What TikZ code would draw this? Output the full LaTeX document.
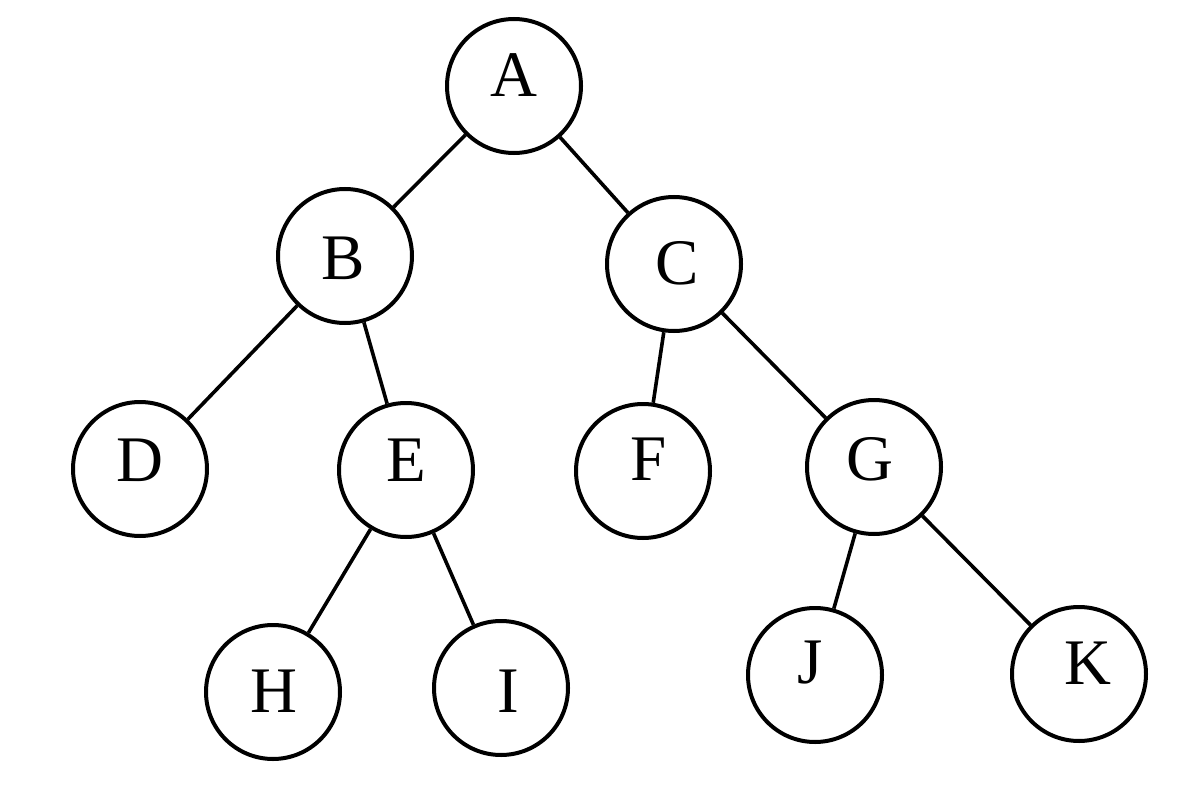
\documentclass[tikz,border=0pt]{standalone}
\usepackage{fontspec}
\setmainfont{Liberation Serif}
\begin{document}
\begin{tikzpicture}[x=1pt,y=-1pt,
  vertex/.style={circle,draw=black,line width=4pt,minimum size=134pt,inner sep=0pt},
  letter/.style={font=\fontsize{65}{70}\selectfont,inner sep=0pt},
  edge/.style={line width=3.6pt}]
\useasboundingbox (0,0) rectangle (1200,789);
\fill[white] (0,0) rectangle (1200,789);
\node[vertex,label={[letter,xshift=0pt,yshift=11pt]center:A}] (A) at (514,86) {};
\node[vertex,label={[letter,xshift=-2pt,yshift=-2pt]center:B}] (B) at (345,256) {};
\node[vertex,label={[letter,xshift=3pt,yshift=1pt]center:C}] (C) at (674,264) {};
\node[vertex,label={[letter,xshift=0pt,yshift=9pt]center:D}] (D) at (140,469) {};
\node[vertex,label={[letter,xshift=0pt,yshift=10pt]center:E}] (E) at (406,470) {};
\node[vertex,label={[letter,xshift=6pt,yshift=12pt]center:F}] (F) at (643,471) {};
\node[vertex,label={[letter,xshift=-4pt,yshift=8pt]center:G}] (G) at (874,467) {};
\node[vertex,label={[letter,xshift=1pt,yshift=1pt]center:H}] (H) at (273,692) {};
\node[vertex,label={[letter,xshift=7pt,yshift=-3pt]center:I}] (I) at (501,688) {};
\node[vertex,label={[letter,xshift=-5pt,yshift=12pt]center:J}] (J) at (815,675) {};
\node[vertex,label={[letter,xshift=9pt,yshift=11pt]center:K}] (K) at (1079,674) {};
\draw[edge] (A) -- (B);
\draw[edge] (A) -- (C);
\draw[edge] (B) -- (D);
\draw[edge] (B) -- (E);
\draw[edge] (C) -- (F);
\draw[edge] (C) -- (G);
\draw[edge] (E) -- (H);
\draw[edge] (E) -- (I);
\draw[edge] (G) -- (J);
\draw[edge] (G) -- (K);
\end{tikzpicture}
\end{document}
